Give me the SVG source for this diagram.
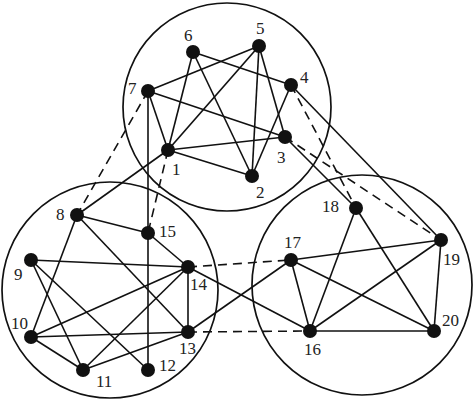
<svg xmlns="http://www.w3.org/2000/svg" width="474" height="402" viewBox="0 0 474 402">
<style>
.c{fill:none;stroke:#111;stroke-width:1.7}
.e{stroke:#111;stroke-width:1.6;fill:none}
.d{stroke:#111;stroke-width:1.6;fill:none;stroke-dasharray:9 6}
.n{fill:#111}
text{font-family:"Liberation Serif",serif;font-size:17px;fill:#222}
</style>
<rect width="474" height="402" fill="#fff"/>
<g id="clusters">
<circle class="c" cx="227" cy="107" r="104"/>
<circle class="c" cx="110" cy="290" r="108"/>
<circle class="c" cx="362" cy="285" r="110"/>
</g>
<g id="connectors">
<line class="e" x1="193" y1="52" x2="168" y2="150"/>
<line class="e" x1="193" y1="52" x2="252" y2="176"/>
<line class="e" x1="193" y1="52" x2="291" y2="85"/>
<line class="e" x1="259" y1="46" x2="148" y2="91"/>
<line class="e" x1="259" y1="46" x2="168" y2="150"/>
<line class="e" x1="259" y1="46" x2="252" y2="176"/>
<line class="e" x1="259" y1="46" x2="285" y2="137"/>
<line class="e" x1="291" y1="85" x2="252" y2="176"/>
<line class="e" x1="148" y1="91" x2="168" y2="150"/>
<line class="e" x1="148" y1="91" x2="285" y2="137"/>
<line class="e" x1="168" y1="150" x2="285" y2="137"/>
<line class="e" x1="168" y1="150" x2="252" y2="176"/>
<line class="e" x1="148" y1="91" x2="148" y2="370"/>
<line class="e" x1="168" y1="150" x2="77" y2="215"/>
<line class="e" x1="291" y1="85" x2="441" y2="240"/>
<line class="e" x1="285" y1="137" x2="356" y2="208"/>
<line class="d" x1="148" y1="91" x2="77" y2="215"/>
<line class="d" x1="168" y1="150" x2="148" y2="233"/>
<line class="d" x1="291" y1="85" x2="356" y2="208"/>
<line class="d" x1="285" y1="137" x2="441" y2="240"/>
<line class="d" x1="188" y1="267" x2="291" y2="260"/>
<line class="d" x1="188" y1="332" x2="310" y2="331"/>
<line class="e" x1="77" y1="215" x2="148" y2="233"/>
<line class="e" x1="77" y1="215" x2="31" y2="337"/>
<line class="e" x1="77" y1="215" x2="188" y2="332"/>
<line class="e" x1="148" y1="233" x2="188" y2="267"/>
<line class="e" x1="31" y1="260" x2="188" y2="267"/>
<line class="e" x1="31" y1="260" x2="83" y2="370"/>
<line class="e" x1="31" y1="260" x2="148" y2="370"/>
<line class="e" x1="188" y1="267" x2="188" y2="332"/>
<line class="e" x1="188" y1="267" x2="31" y2="337"/>
<line class="e" x1="188" y1="267" x2="83" y2="370"/>
<line class="e" x1="31" y1="337" x2="188" y2="332"/>
<line class="e" x1="31" y1="337" x2="83" y2="370"/>
<line class="e" x1="83" y1="370" x2="188" y2="332"/>
<line class="e" x1="188" y1="267" x2="310" y2="331"/>
<line class="e" x1="188" y1="332" x2="291" y2="260"/>
<line class="e" x1="356" y1="208" x2="310" y2="331"/>
<line class="e" x1="356" y1="208" x2="434" y2="331"/>
<line class="e" x1="291" y1="260" x2="441" y2="240"/>
<line class="e" x1="291" y1="260" x2="310" y2="331"/>
<line class="e" x1="291" y1="260" x2="434" y2="331"/>
<line class="e" x1="441" y1="240" x2="310" y2="331"/>
<line class="e" x1="441" y1="240" x2="434" y2="331"/>
<line class="e" x1="310" y1="331" x2="434" y2="331"/>
</g>
<g id="n1"><circle class="n" cx="168" cy="150" r="7"/><text x="172" y="175">1</text></g>
<g id="n2"><circle class="n" cx="252" cy="176" r="7"/><text x="256" y="198">2</text></g>
<g id="n3"><circle class="n" cx="285" cy="137" r="7"/><text x="277" y="163">3</text></g>
<g id="n4"><circle class="n" cx="291" cy="85" r="7"/><text x="300" y="83">4</text></g>
<g id="n5"><circle class="n" cx="259" cy="46" r="7"/><text x="256" y="34">5</text></g>
<g id="n6"><circle class="n" cx="193" cy="52" r="7"/><text x="184" y="41">6</text></g>
<g id="n7"><circle class="n" cx="148" cy="91" r="7"/><text x="128" y="94">7</text></g>
<g id="n8"><circle class="n" cx="77" cy="215" r="7"/><text x="56" y="220">8</text></g>
<g id="n9"><circle class="n" cx="31" cy="260" r="7"/><text x="14" y="280">9</text></g>
<g id="n10"><circle class="n" cx="31" cy="337" r="7"/><text x="11" y="329">10</text></g>
<g id="n11"><circle class="n" cx="83" cy="370" r="7"/><text x="96" y="387">11</text></g>
<g id="n12"><circle class="n" cx="148" cy="370" r="7"/><text x="159" y="371">12</text></g>
<g id="n13"><circle class="n" cx="188" cy="332" r="7"/><text x="179" y="354">13</text></g>
<g id="n14"><circle class="n" cx="188" cy="267" r="7"/><text x="190" y="290">14</text></g>
<g id="n15"><circle class="n" cx="148" cy="233" r="7"/><text x="159" y="237">15</text></g>
<g id="n16"><circle class="n" cx="310" cy="331" r="7"/><text x="304" y="355">16</text></g>
<g id="n17"><circle class="n" cx="291" cy="260" r="7"/><text x="284" y="248">17</text></g>
<g id="n18"><circle class="n" cx="356" cy="208" r="7"/><text x="322" y="212">18</text></g>
<g id="n19"><circle class="n" cx="441" cy="240" r="7"/><text x="443" y="265">19</text></g>
<g id="n20"><circle class="n" cx="434" cy="331" r="7"/><text x="442" y="326">20</text></g>
</svg>
